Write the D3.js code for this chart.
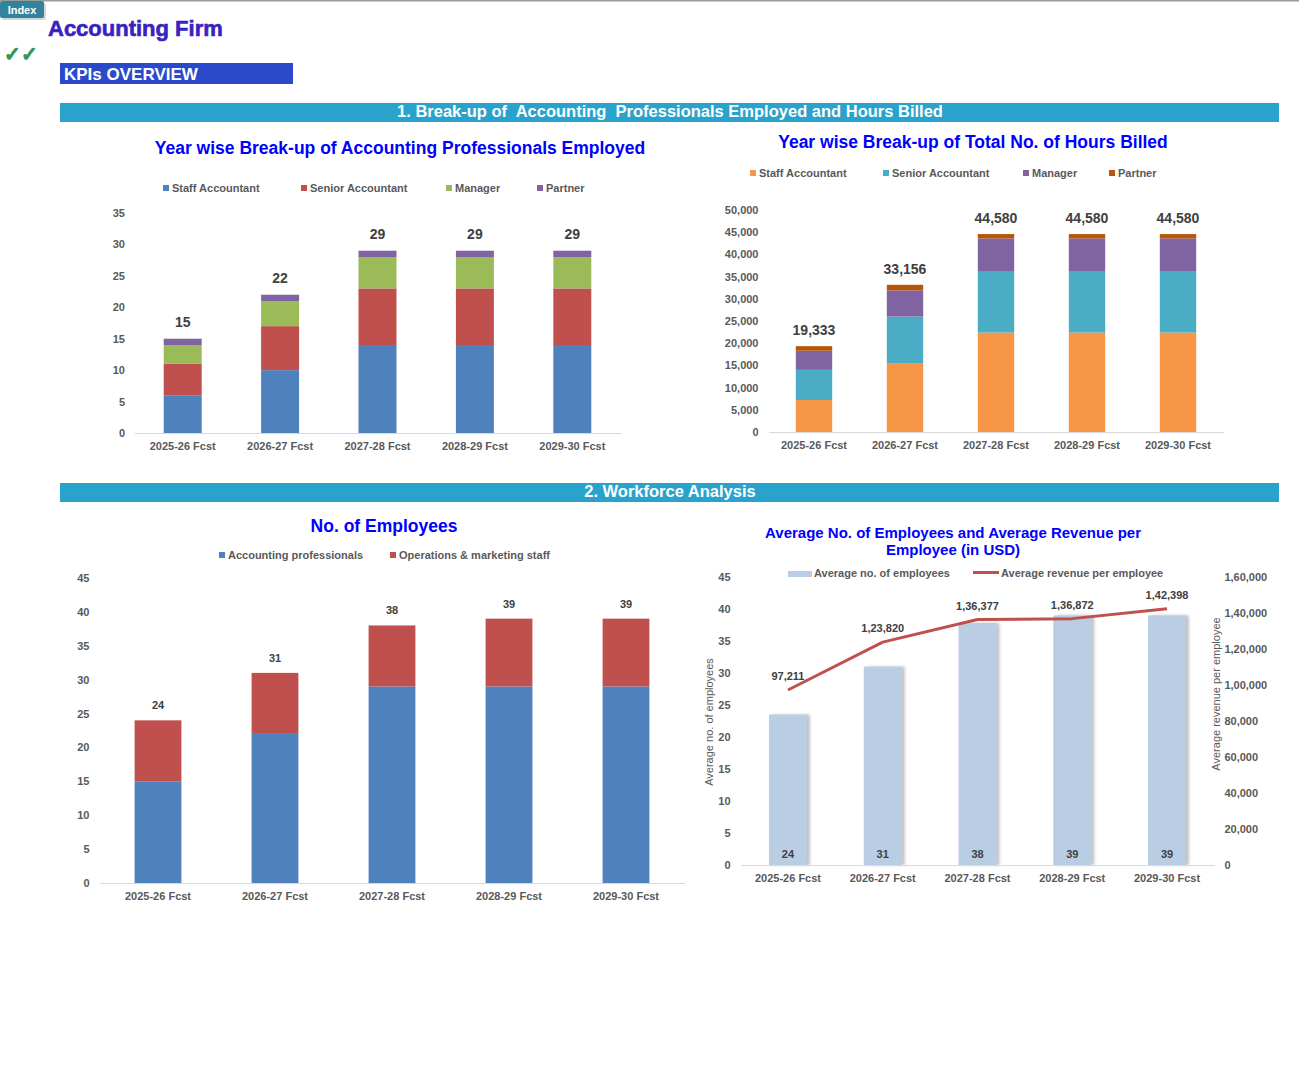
<!DOCTYPE html>
<html>
<head>
<meta charset="utf-8">
<script src="https://cdn.jsdelivr.net/npm/d3@7"></script>
<style>
  body { margin: 0; background: #fff; }
  svg { display: block; font-family: "Liberation Sans", Arial, sans-serif; }
  .tick-lbl { font-size: 11px; font-weight: bold; fill: #595959; }
  .leg-lbl { font-size: 11px; font-weight: bold; fill: #595959; }
  .ttl { font-weight: bold; fill: #0000ff; }
</style>
</head>
<body>
<div id="chart"></div>
<script>
// ---- data ----
const years = ["2025-26 Fcst", "2026-27 Fcst", "2027-28 Fcst", "2028-29 Fcst", "2029-30 Fcst"];

// professionals employed
const staffAcc = [6, 10, 14, 14, 14];
const seniorAcc = [5, 7, 9, 9, 9];
const managers = [3, 4, 5, 5, 5];
const partners = [1, 1, 1, 1, 1];

// hours billed
const staffHours = [7200, 15400, 22400, 22400, 22400];
const seniorHours = [6800, 10600, 13700, 13700, 13700];
const managerHours = [4300, 5900, 7500, 7500, 7500];
const partnerHours = [1033, 1256, 980, 980, 980];

// employees
const accountingPros = [15, 22, 29, 29, 29];
const opsStaff = [9, 9, 9, 10, 10];

// averages
const avgEmployees = [23.5, 31, 37.8, 39, 39];
const avgRevenue = [97211, 123820, 136377, 136872, 142398];

const W = 1299, H = 1081;
const svg = d3.select("#chart").append("svg").attr("width", W).attr("height", H);
svg.append("rect").attr("width", W).attr("height", H).attr("fill", "#fff");

const defs = svg.append("defs");
defs.append("filter").attr("id", "shadow").attr("x", "-20%").attr("y", "-5%").attr("width", "150%").attr("height", "110%")
  .append("feDropShadow").attr("dx", 3).attr("dy", 0).attr("stdDeviation", 1.5)
  .attr("flood-color", "#777").attr("flood-opacity", 0.45);

// indian style grouping: 1,23,820
function indian(n) {
  const s = String(Math.round(n));
  if (s.length <= 3) return s;
  let last = s.slice(-3), rest = s.slice(0, -3);
  rest = rest.replace(/\B(?=(\d{2})+(?!\d))/g, ",");
  return rest + "," + last;
}
const comma = d3.format(",");

// ---- page header ----
svg.append("line").attr("x1", 0).attr("x2", W).attr("y1", 0.5).attr("y2", 0.5)
  .attr("stroke", "#9a9a9a").attr("stroke-width", 2);
svg.append("rect").attr("x", 2).attr("y", 3).attr("width", 44).attr("height", 17).attr("rx", 2)
  .attr("fill", "#bbb").attr("opacity", 0.6);
svg.append("rect").attr("x", 0).attr("y", 1).attr("width", 44).attr("height", 17).attr("rx", 2)
  .attr("fill", "#31849b");
svg.append("text").attr("x", 22).attr("y", 13.5).attr("text-anchor", "middle")
  .style("font-size", "11px").style("font-weight", "bold").attr("fill", "#fff").text("Index");

svg.append("text").attr("x", 48).attr("y", 36).style("font-size", "22px").style("font-weight", "bold")
  .attr("fill", "#3a22c0").attr("stroke", "#3a22c0").attr("stroke-width", 0.6).text("Accounting Firm");
svg.append("text").attr("x", 4).attr("y", 61).style("font-size", "20px").style("font-weight", "bold")
  .attr("fill", "#2e9a5c").attr("stroke", "#2e9a5c").attr("stroke-width", 0.5).text("\u2713\u2713");

svg.append("rect").attr("x", 60).attr("y", 63).attr("width", 233).attr("height", 21).attr("fill", "#2b4acb");
svg.append("text").attr("x", 64).attr("y", 80).style("font-size", "17px").style("font-weight", "bold")
  .attr("fill", "#fff").text("KPIs OVERVIEW");

function sectionBar(y, label) {
  svg.append("rect").attr("x", 60).attr("y", y).attr("width", 1219).attr("height", 19).attr("fill", "#29a3cc");
  svg.append("text").attr("x", 670).attr("y", y + 14).attr("text-anchor", "middle")
    .style("font-size", "16.5px").style("font-weight", "bold").attr("fill", "#fff")
    .attr("xml:space", "preserve").style("white-space", "pre").text(label);
}
sectionBar(103, "1. Break-up of  Accounting  Professionals Employed and Hours Billed");
sectionBar(483, "2. Workforce Analysis");

// ---- helpers ----
function legend(items, y, sw, sh) {
  items.forEach(it => {
    if (it.line) {
      svg.append("rect").attr("x", it.x).attr("y", y - 2).attr("width", it.w).attr("height", it.h || 3).attr("fill", it.color);
      svg.append("text").attr("class", "leg-lbl").attr("x", it.x + it.w + 2).attr("y", y + 4).text(it.name);
    } else {
      svg.append("rect").attr("x", it.x).attr("y", y - 3).attr("width", sw || 6).attr("height", sh || 6).attr("fill", it.color);
      svg.append("text").attr("class", "leg-lbl").attr("x", it.x + 9).attr("y", y + 4).text(it.name);
    }
  });
}

function stackedChart(o) {
  const x = d3.scaleBand().domain(years).range(o.xr);
  const y = d3.scaleLinear().domain(o.yd).range(o.yr);
  const rows = years.map((yr, i) => {
    const r = { year: yr };
    o.series.forEach(s => r[s.name] = s.values[i]);
    return r;
  });
  const stack = d3.stack().keys(o.series.map(s => s.name))(rows);
  const bw = x.bandwidth() * o.ratio;
  const g = svg.append("g");

  // y axis
  const ya = g.append("g").attr("transform", `translate(${o.xr[0]},0)`)
    .call(d3.axisLeft(y).tickValues(d3.range(o.yd[0], o.yd[1] + 1, o.step)).tickSize(0).tickPadding(o.yPad).tickFormat(o.fmt));
  ya.select(".domain").remove();
  ya.selectAll("text").attr("class", "tick-lbl").attr("font-family", null).attr("font-size", null);

  stack.forEach((layer, k) => {
    g.selectAll(null).data(layer).enter().append("rect")
      .attr("x", (d, i) => x(years[i]) + x.bandwidth() / 2 - bw / 2)
      .attr("width", bw)
      .attr("y", d => y(d[1]))
      .attr("height", d => y(d[0]) - y(d[1]))
      .attr("fill", o.series[k].color);
  });

  // x axis
  const xa = g.append("g").attr("transform", `translate(0,${o.yr[0]})`)
    .call(d3.axisBottom(x).tickSize(0).tickPadding(o.xPad));
  xa.select(".domain").attr("stroke", "#d9d9d9");
  xa.selectAll("text").attr("class", "tick-lbl").attr("font-family", null).attr("font-size", null);

  // totals
  const top = stack[stack.length - 1];
  g.selectAll(null).data(top).enter().append("text")
    .attr("x", (d, i) => x(years[i]) + x.bandwidth() / 2)
    .attr("y", d => y(d[1]) - o.lblGap)
    .attr("text-anchor", "middle")
    .style("font-size", o.lblSize).style("font-weight", "bold").attr("fill", "#404040")
    .text(d => o.lblFmt(d[1]));
}

// ---- chart 1 ----
svg.append("text").attr("class", "ttl").attr("x", 400).attr("y", 154).attr("text-anchor", "middle")
  .style("font-size", "17.5px").text("Year wise Break-up of Accounting Professionals Employed");
legend([
  { name: "Staff Accountant", color: "#4f81bd", x: 163 },
  { name: "Senior Accountant", color: "#c0504d", x: 301 },
  { name: "Manager", color: "#9bbb59", x: 446 },
  { name: "Partner", color: "#8064a2", x: 537 }
], 188);
stackedChart({
  xr: [134, 621], yr: [433, 213], yd: [0, 35], step: 5, ratio: 0.39,
  series: [
    { name: "Staff Accountant", values: staffAcc, color: "#4f81bd" },
    { name: "Senior Accountant", values: seniorAcc, color: "#c0504d" },
    { name: "Manager", values: managers, color: "#9bbb59" },
    { name: "Partner", values: partners, color: "#8064a2" }
  ],
  fmt: d3.format("d"), yPad: 9, xPad: 9, lblGap: 12, lblSize: "14px", lblFmt: d3.format("d")
});

// ---- chart 2 ----
svg.append("text").attr("class", "ttl").attr("x", 973).attr("y", 148).attr("text-anchor", "middle")
  .style("font-size", "17.5px").text("Year wise Break-up of Total No. of Hours Billed");
legend([
  { name: "Staff Accountant", color: "#f79646", x: 750 },
  { name: "Senior Accountant", color: "#4bacc6", x: 883 },
  { name: "Manager", color: "#8064a2", x: 1023 },
  { name: "Partner", color: "#b65708", x: 1109 }
], 173);
stackedChart({
  xr: [768.5, 1223.5], yr: [432, 210], yd: [0, 50000], step: 5000, ratio: 0.40,
  series: [
    { name: "Staff Accountant", values: staffHours, color: "#f79646" },
    { name: "Senior Accountant", values: seniorHours, color: "#4bacc6" },
    { name: "Manager", values: managerHours, color: "#8064a2" },
    { name: "Partner", values: partnerHours, color: "#b65708" }
  ],
  fmt: comma, yPad: 10, xPad: 9, lblGap: 11, lblSize: "14px", lblFmt: comma
});

// ---- chart 3 ----
svg.append("text").attr("class", "ttl").attr("x", 384).attr("y", 532).attr("text-anchor", "middle")
  .style("font-size", "17.5px").text("No. of Employees");
legend([
  { name: "Accounting professionals", color: "#4f81bd", x: 219 },
  { name: "Operations & marketing staff", color: "#c0504d", x: 390 }
], 555);
stackedChart({
  xr: [99.5, 684.5], yr: [883, 578], yd: [0, 45], step: 5, ratio: 0.40,
  series: [
    { name: "Accounting professionals", values: accountingPros, color: "#4f81bd" },
    { name: "Operations & marketing staff", values: opsStaff, color: "#c0504d" }
  ],
  fmt: d3.format("d"), yPad: 10, xPad: 9, lblGap: 11, lblSize: "11px", lblFmt: d3.format("d")
});

// ---- chart 4 ----
{
  const x = d3.scaleBand().domain(years).range([740.6, 1214.4]);
  const yL = d3.scaleLinear().domain([0, 45]).range([865, 577]);
  const yR = d3.scaleLinear().domain([0, 160000]).range([865, 577]);
  const bw = x.bandwidth() * 0.40;
  const cx = yr => x(yr) + x.bandwidth() / 2;
  const g = svg.append("g");

  g.append("text").attr("class", "ttl").attr("x", 953).attr("y", 538).attr("text-anchor", "middle")
    .style("font-size", "15px").text("Average No. of Employees and Average Revenue per");
  g.append("text").attr("class", "ttl").attr("x", 953).attr("y", 555).attr("text-anchor", "middle")
    .style("font-size", "15px").text("Employee (in USD)");

  legend([
    { name: "Average no. of employees", color: "#b9cde5", x: 788, w: 24, h: 6, line: true },
    { name: "Average revenue per employee", color: "#c0504d", x: 973, w: 26, h: 3, line: true }
  ], 573);

  const yla = g.append("g").attr("transform", "translate(740.6,0)")
    .call(d3.axisLeft(yL).tickValues(d3.range(0, 46, 5)).tickSize(0).tickPadding(10));
  yla.select(".domain").remove();
  yla.selectAll("text").attr("class", "tick-lbl").attr("font-family", null).attr("font-size", null);

  const yra = g.append("g").attr("transform", "translate(1214.4,0)")
    .call(d3.axisRight(yR).tickValues(d3.range(0, 160001, 20000)).tickSize(0).tickPadding(10).tickFormat(indian));
  yra.select(".domain").remove();
  yra.selectAll("text").attr("class", "tick-lbl").attr("font-family", null).attr("font-size", null);

  g.append("text").attr("transform", "translate(713,722) rotate(-90)").attr("text-anchor", "middle")
    .style("font-size", "11px").attr("fill", "#595959").text("Average no. of  employees");
  g.append("text").attr("transform", "translate(1220,694) rotate(-90)").attr("text-anchor", "middle")
    .style("font-size", "11px").attr("fill", "#595959").text("Average revenue per employee");

  g.selectAll(null).data(avgEmployees).enter().append("rect")
    .attr("x", (d, i) => cx(years[i]) - bw / 2).attr("width", bw)
    .attr("y", d => yL(d)).attr("height", d => yL(0) - yL(d))
    .attr("fill", "#b9cde5").attr("filter", "url(#shadow)");

  g.selectAll(null).data(avgEmployees).enter().append("text")
    .attr("x", (d, i) => cx(years[i])).attr("y", 858).attr("text-anchor", "middle")
    .style("font-size", "11px").style("font-weight", "bold").attr("fill", "#404040")
    .text(d => d3.format(".0f")(d));

  const xa = g.append("g").attr("transform", "translate(0,865)")
    .call(d3.axisBottom(x).tickSize(0).tickPadding(9));
  xa.select(".domain").attr("stroke", "#d9d9d9");
  xa.selectAll("text").attr("class", "tick-lbl").attr("font-family", null).attr("font-size", null);

  const line = d3.line().x((d, i) => cx(years[i])).y(d => yR(d));
  g.append("path").datum(avgRevenue).attr("d", line).attr("fill", "none")
    .attr("stroke", "#c0504d").attr("stroke-width", 3).attr("stroke-linejoin", "round");

  g.selectAll(null).data(avgRevenue).enter().append("text")
    .attr("x", (d, i) => cx(years[i])).attr("y", d => yR(d) - 10).attr("text-anchor", "middle")
    .style("font-size", "11px").style("font-weight", "bold").attr("fill", "#404040")
    .text(d => indian(d));
}
</script>
</body>
</html>
